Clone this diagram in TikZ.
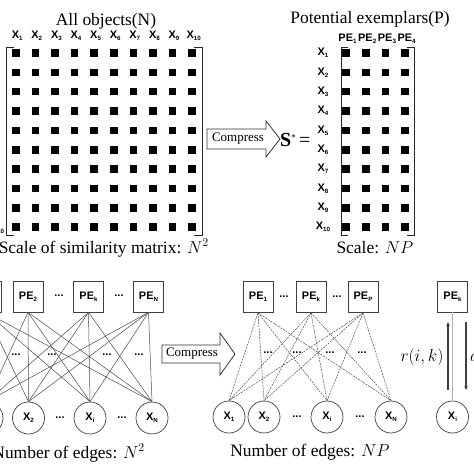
\documentclass[tikz,border=0pt]{standalone}
\usepackage{fontspec}
\setmainfont{Liberation Serif}
\setsansfont{Liberation Sans}
\usetikzlibrary{arrows.meta}
\newcommand\xsub[1]{\raisebox{-2bp}{\fontsize{6.2}{6.5}\selectfont #1}}
\tikzset{
  lab/.style={font=\sffamily\bfseries\fontsize{11}{11}\selectfont, inner sep=0pt},
  title/.style={font=\fontsize{17.5}{18}\selectfont, inner sep=0pt},
  pebox/.style={draw=black!75, line width=0.7bp, minimum width=30bp, minimum height=31bp, inner sep=0pt, fill=white, lab},
  xcirc/.style={circle, draw=black!75, line width=0.7bp, minimum size=32bp, inner sep=0pt, fill=white, lab},
  edgeA/.style={black!70, line width=0.5bp},
  edgeB/.style={black!70, line width=0.5bp, dash pattern=on 2bp off 1bp},
  dotsl/.style={font=\sffamily\bfseries\fontsize{11}{11}\selectfont, inner sep=0pt},
  brk/.style={black!85, line width=0.9bp},
  sq/.style={fill=black},
  arrowshape/.style={draw=black!80, line width=0.8bp, fill=white},
  comptext/.style={font=\fontsize{13}{13}\selectfont, inner sep=0pt},
  msg/.style={black!75, line width=1.2bp, -{Stealth[length=4bp,width=3.5bp]}},
}
\begin{document}
\begin{tikzpicture}[x=1bp, y=-1bp]
\useasboundingbox (0,0) rectangle (474,474);
% ---------- top left matrix ----------
\node[title] (t1) at (106,21) {All objects(N)};
\foreach \c in {1,...,10} {
  \pgfmathsetmacro\xx{15.7+19.6*(\c-1)}
  \node[lab] (cx\c) at (\xx+1.5,36) {X\xsub{\c}};
  \foreach \r in {1,...,10} {
    \pgfmathsetmacro\yy{53+19.35*(\r-1)}
    \fill[sq] (\xx-3.8,\yy-3.8) rectangle (\xx+3.8,\yy+3.8);
  }
}
\draw[brk] (14,47) -- (6,47) -- (6,235) -- (14,235);
\draw[brk] (194,47) -- (202,47) -- (202,235) -- (194,235);
\node[lab] (rx10) at (-3,229) {X\xsub{10}};
\node[title, anchor=east] (s1) at (209,248) {Scale of similarity matrix: $N^2$};
% ---------- compress arrow top ----------
\draw[arrowshape] (207,129) -- (266,129) -- (266,121) -- (280,139) -- (266,157) -- (266,149) -- (207,149) -- cycle;
\node[comptext] (c1) at (238,139) {Compress};
\node[font=\fontsize{20}{20}\selectfont, inner sep=0pt, anchor=west] (seq) at (280,140) {\textbf{S}\raisebox{6bp}{\fontsize{9}{9}\selectfont *}\,=};
% ---------- top right matrix ----------
\node[title] (t2) at (370,19) {Potential exemplars(P)};
\foreach \c in {1,...,4} {
  \pgfmathsetmacro\xx{346+19.7*(\c-1)}
  \node[lab] (pe\c) at (\xx+1.5,39) {PE\xsub{\c}};
  \foreach \r in {1,...,10} {
    \pgfmathsetmacro\yy{53+19.35*(\r-1)}
    \fill[sq] (\xx-3.8,\yy-3.8) rectangle (\xx+3.8,\yy+3.8);
  }
}
\foreach \r in {1,...,10} {
  \pgfmathsetmacro\yy{53+19.35*(\r-1)}
  \node[lab] (rr\r) at (323,\yy) {X\xsub{\r}};
}
\draw[brk] (348,47) -- (341,47) -- (341,235) -- (348,235);
\draw[brk] (407,47) -- (414,47) -- (414,235) -- (407,235);
\node[title] (s2) at (375,248) {Scale: $NP$};
% ---------- bottom left graph ----------
\node[pebox] (L1) at (-14,296.5) {PE\xsub{1}};
\node[pebox] (L2) at (28,296.5) {PE\xsub{2}};
\node[pebox] (Lk) at (88.5,296.5) {PE\xsub{k}};
\node[pebox] (LN) at (148.5,296.5) {PE\xsub{N}};
\node[xcirc] (A1) at (-13,418) {X\xsub{1}};
\node[xcirc] (A2) at (28.5,418) {X\xsub{2}};
\node[xcirc] (Ai) at (90,418) {X\xsub{i}};
\node[xcirc] (AN) at (152,418) {X\xsub{N}};
\foreach \p in {L1,L2,Lk,LN}
  \foreach \q in {A1,A2,Ai,AN}
    \draw[edgeA] (\p.south) -- (\q.north);
\node[dotsl] (ld1) at (59,296) {...};
\node[dotsl] (ld2) at (119,296) {...};
\node[dotsl] (ld3) at (60,418) {...};
\node[dotsl] (ld4) at (122,418) {...};
\node[dotsl] (lm1) at (16,355) {...};
\node[dotsl] (lm2) at (52,355) {...};
\node[dotsl] (lm3) at (107,355) {...};
\node[dotsl] (lm4) at (139,355) {...};
\node[title, anchor=east] (e1) at (145,453) {Number of edges: $N^2$};
% ---------- compress arrow bottom ----------
\draw[arrowshape] (162,345) -- (220,345) -- (220,333) -- (235,354) -- (220,375) -- (220,363) -- (162,363) -- cycle;
\node[comptext] (c2) at (192,354) {Compress};
% ---------- bottom middle graph ----------
\node[pebox] (M1) at (258,297) {PE\xsub{1}};
\node[pebox] (Mk) at (311,297) {PE\xsub{k}};
\node[pebox] (MP) at (363,297) {PE\xsub{P}};
\node[xcirc] (B1) at (229,417) {X\xsub{1}};
\node[xcirc] (B2) at (264,417) {X\xsub{2}};
\node[xcirc] (Bi) at (327,417) {X\xsub{i}};
\node[xcirc] (BN) at (391,417) {X\xsub{N}};
\foreach \p in {M1,Mk,MP}
  \foreach \q in {B1,B2,Bi,BN}
    \draw[edgeB] (\p.south) -- (\q.north);
\node[dotsl] (md1) at (284,297) {...};
\node[dotsl] (md2) at (337,297) {...};
\node[dotsl] (md3) at (297,417) {...};
\node[dotsl] (md4) at (360,417) {...};
\node[dotsl] (mm1) at (268,353) {...};
\node[dotsl] (mm2) at (297,353) {...};
\node[dotsl] (mm3) at (330,353) {...};
\node[dotsl] (mm4) at (362,353) {...};
\node[title] (e2) at (310,452) {Number of edges: $NP$};
% ---------- right pair ----------
\node[pebox] (R) at (452.5,296.5) {PE\xsub{k}};
\node[xcirc] (Rx) at (452.5,417) {X\xsub{i}};
\draw[black!30, line width=0.7bp] (R.south) -- (Rx.north);
\coordinate (u1) at (448,390);
\coordinate (u2) at (448,322);
\coordinate (d1) at (466,322);
\coordinate (d2) at (466,390);
\draw[msg] (u1) -- (u2);
\draw[msg] (d1) -- (d2);
\node[font=\fontsize{18}{18}\selectfont, inner sep=0pt] (rlab) at (422,357) {$r(i,k)$};
\node[font=\fontsize{18}{18}\selectfont, inner sep=0pt, anchor=west] (alab) at (470,357) {$a(i,k)$};
\end{tikzpicture}
\end{document}
